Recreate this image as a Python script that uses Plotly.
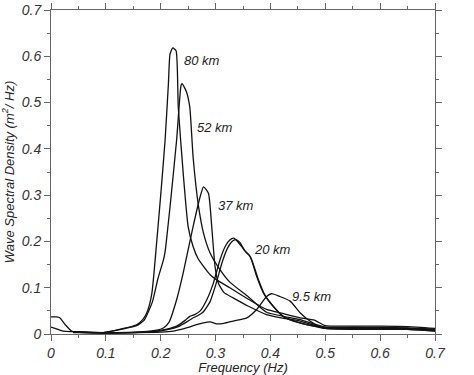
import plotly.graph_objects as go

# ---- data ----
f_80 = [0, 0.01, 0.016, 0.026, 0.038, 0.06, 0.095, 0.132, 0.156, 0.168, 0.176, 0.184, 0.193, 0.2, 0.208, 0.214,
        0.217, 0.222, 0.228, 0.232, 0.241, 0.25, 0.259, 0.268, 0.278, 0.29, 0.302, 0.326, 0.36, 0.393, 0.42,
        0.454, 0.48, 0.5, 0.55, 0.6, 0.65, 0.7]
s_80 = [0.037, 0.037, 0.035, 0.02, 0.006, 0.004, 0.003, 0.012, 0.02, 0.032, 0.05, 0.089, 0.203, 0.3, 0.419, 0.54,
        0.605, 0.618, 0.612, 0.49, 0.347, 0.232, 0.189, 0.163, 0.146, 0.128, 0.117, 0.1, 0.075, 0.053, 0.045,
        0.035, 0.03, 0.018, 0.017, 0.017, 0.016, 0.012]

f_52 = [0, 0.01, 0.022, 0.04, 0.06, 0.095, 0.132, 0.156, 0.17, 0.185, 0.195, 0.205, 0.208, 0.217, 0.229, 0.237,
        0.239, 0.247, 0.253, 0.259, 0.269, 0.278, 0.29, 0.308, 0.326, 0.36, 0.393, 0.454, 0.5, 0.55, 0.6, 0.65, 0.7]
s_52 = [0.015, 0.011, 0.006, 0.005, 0.004, 0.003, 0.011, 0.018, 0.03, 0.07, 0.12, 0.16, 0.178, 0.275, 0.419, 0.537,
        0.541, 0.523, 0.49, 0.383, 0.275, 0.218, 0.175, 0.139, 0.112, 0.08, 0.047, 0.031, 0.015, 0.014, 0.013,
        0.012, 0.008]

f_37 = [0.04, 0.1, 0.15, 0.19, 0.205, 0.215, 0.229, 0.241, 0.259, 0.272, 0.278, 0.287, 0.293, 0.299, 0.305,
        0.315, 0.332, 0.36, 0.393, 0.42, 0.454, 0.5, 0.55, 0.6, 0.65, 0.7]
s_37 = [0.005, 0.003, 0.004, 0.008, 0.013, 0.025, 0.074, 0.132, 0.232, 0.297, 0.318, 0.304, 0.232, 0.146, 0.11,
        0.09, 0.078, 0.06, 0.042, 0.035, 0.028, 0.012, 0.01, 0.01, 0.01, 0.006]

f_20a = [0.04, 0.1, 0.15, 0.2, 0.229, 0.245, 0.253, 0.262, 0.272, 0.284, 0.296, 0.308, 0.318, 0.326, 0.333, 0.34,
         0.35, 0.357, 0.363, 0.375, 0.387, 0.405, 0.423, 0.45, 0.5, 0.55, 0.6, 0.65, 0.7]
s_20a = [0.004, 0.002, 0.003, 0.008, 0.017, 0.03, 0.038, 0.042, 0.05, 0.074, 0.11, 0.16, 0.19, 0.203, 0.207, 0.2,
         0.185, 0.175, 0.168, 0.124, 0.089, 0.06, 0.038, 0.025, 0.012, 0.012, 0.012, 0.012, 0.008]

f_20b = [0.04, 0.1, 0.15, 0.2, 0.232, 0.25, 0.258, 0.268, 0.278, 0.29, 0.3, 0.312, 0.322, 0.33, 0.337, 0.345,
         0.353, 0.36, 0.366, 0.378, 0.39, 0.408, 0.426, 0.46, 0.5, 0.55, 0.6, 0.65, 0.7]
s_20b = [0.004, 0.002, 0.003, 0.007, 0.016, 0.028, 0.034, 0.04, 0.048, 0.07, 0.105, 0.155, 0.186, 0.2, 0.204, 0.197,
         0.18, 0.172, 0.16, 0.118, 0.084, 0.056, 0.036, 0.022, 0.014, 0.014, 0.014, 0.013, 0.01]

f_9 = [0.04, 0.095, 0.15, 0.2, 0.223, 0.247, 0.265, 0.278, 0.29, 0.302, 0.315, 0.332, 0.357, 0.375, 0.393, 0.402,
       0.417, 0.436, 0.454, 0.472, 0.496, 0.55, 0.6, 0.65, 0.7]
s_9 = [0.003, 0.003, 0.003, 0.004, 0.006, 0.013, 0.02, 0.024, 0.026, 0.022, 0.023, 0.028, 0.035, 0.053, 0.081, 0.087,
       0.081, 0.071, 0.046, 0.028, 0.013, 0.012, 0.011, 0.01, 0.007]

labels = ["80 km", "52 km", "37 km", "20 km", "9.5 km"]
label_x = [0.239, 0.262, 0.301, 0.366, 0.436]
label_y = [0.591, 0.446, 0.277, 0.182, 0.081]

x_ticks = [0, 0.1, 0.2, 0.3, 0.4, 0.5, 0.6, 0.7]
y_ticks = [0, 0.1, 0.2, 0.3, 0.4, 0.5, 0.6, 0.7]
minor_ticks = [0.05, 0.15, 0.25, 0.35, 0.45, 0.55, 0.65]

# ---- figure ----
fig = go.Figure()
for fx, sy in [(f_80, s_80), (f_52, s_52), (f_37, s_37), (f_20a, s_20a), (f_20b, s_20b), (f_9, s_9)]:
    fig.add_trace(go.Scatter(x=fx, y=sy, mode="lines",
                             line=dict(color="#111111", width=1.3, shape="spline", smoothing=0.5),
                             showlegend=False, hoverinfo="skip"))

for t, lx, ly in zip(labels, label_x, label_y):
    fig.add_annotation(x=lx, y=ly, text=t, showarrow=False, xanchor="left", yanchor="middle",
                       font=dict(family="Liberation Sans, Arial", size=13, color="#222222", style="italic"))

tickfont = dict(family="Liberation Sans, Arial", size=14, color="#333333", style="italic")
axis_common = dict(showgrid=False, zeroline=False, showline=True, linecolor="#666666", linewidth=1,
                   mirror="ticks", ticks="outside", ticklen=6, tickcolor="#666666", tickwidth=1,
                   tickfont=tickfont, automargin=False)

fig.update_xaxes(range=[0, 0.7], tickvals=x_ticks, ticktext=[("0" if v == 0 else f"{v:g}") for v in x_ticks],
                 minor=dict(tickvals=minor_ticks, ticklen=3, ticks="outside", tickcolor="#666666"),
                 title=dict(text="Frequency (Hz)", standoff=6,
                            font=dict(family="Liberation Sans, Arial", size=13, color="#222222", style="italic")),
                 **axis_common)
fig.update_yaxes(range=[0, 0.7], tickvals=y_ticks, ticktext=[("0" if v == 0 else f"{v:g}") for v in y_ticks],
                 minor=dict(tickvals=minor_ticks, ticklen=3, ticks="outside", tickcolor="#666666"),
                 title=dict(text="Wave Spectral Density (m<sup>2</sup>/ Hz)", standoff=4,
                            font=dict(family="Liberation Sans, Arial", size=13, color="#222222", style="italic")),
                 **axis_common)

fig.update_layout(width=474, height=375, margin=dict(l=51, r=39, t=10, b=41),
                  paper_bgcolor="white", plot_bgcolor="white")

# remove the browser's default 8px page margin so the figure sits at the window origin
fig.write_html("out.html", config={"displayModeBar": False},
               post_script="document.body.style.margin='0';")
